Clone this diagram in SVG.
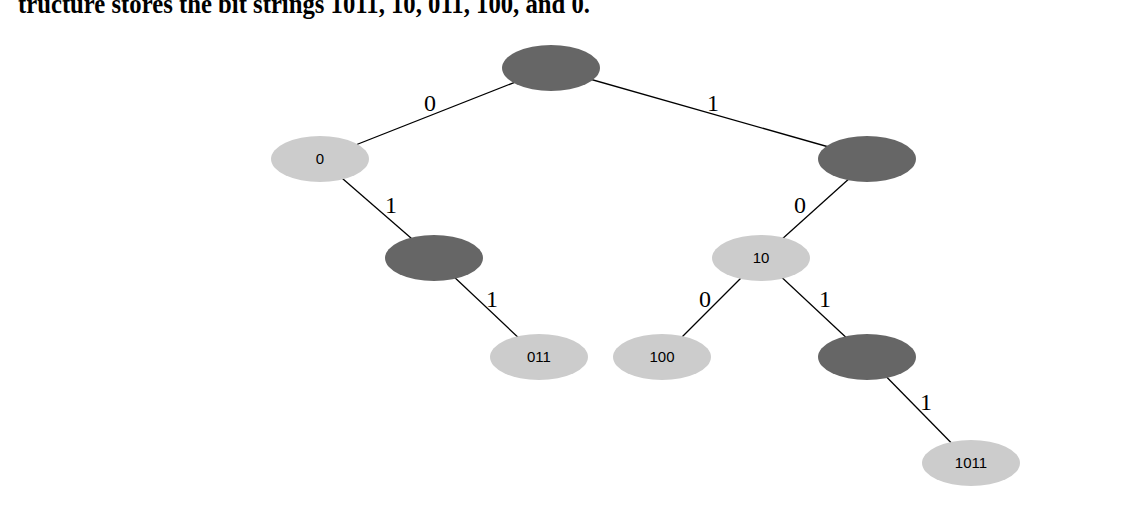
<svg xmlns="http://www.w3.org/2000/svg" width="1128" height="532" viewBox="0 0 1128 532">
<style>
.d{fill:#666}.l{fill:#ccc}
.t{font-family:"Liberation Sans",Arial,sans-serif;font-size:15px;text-anchor:middle;fill:#000}
.e{font-family:"Liberation Serif","Times New Roman",serif;font-size:24px;fill:#000;text-anchor:middle}
.h{font-family:"Liberation Serif","Times New Roman",serif;font-size:28px;font-weight:bold;fill:#000}
line{stroke:#000;stroke-width:1.3}
</style>
<rect width="1128" height="532" fill="#fff"/>
<text class="h" x="18" y="13" textLength="572" lengthAdjust="spacingAndGlyphs">tructure stores the bit strings 1011, 10, 011, 100, and 0.</text>
<g id="connectors">
<line x1="551" y1="68" x2="320" y2="159"/>
<line x1="551" y1="68" x2="871" y2="159"/>
<line x1="320" y1="159" x2="434" y2="258"/>
<line x1="434" y1="258" x2="539" y2="357"/>
<line x1="871" y1="159" x2="761" y2="258"/>
<line x1="761" y1="258" x2="662" y2="357"/>
<line x1="761" y1="258" x2="867" y2="357"/>
<line x1="867" y1="357" x2="971" y2="463"/>
<text class="e" x="430" y="111">0</text>
<text class="e" x="713" y="111">1</text>
<text class="e" x="391" y="213">1</text>
<text class="e" x="800" y="213">0</text>
<text class="e" x="492" y="307">1</text>
<text class="e" x="705" y="307">0</text>
<text class="e" x="825" y="307">1</text>
<text class="e" x="926" y="410">1</text>
</g>
<g id="root"><ellipse class="d" cx="551" cy="68" rx="49" ry="23"/></g>
<g id="n0"><ellipse class="l" cx="320" cy="159" rx="49" ry="23"/><text class="t" x="320" y="164">0</text></g>
<g id="n1"><ellipse class="d" cx="867" cy="159" rx="49" ry="23"/></g>
<g id="n01"><ellipse class="d" cx="434" cy="258" rx="49" ry="23"/></g>
<g id="n10"><ellipse class="l" cx="761" cy="258" rx="49" ry="23"/><text class="t" x="761" y="263">10</text></g>
<g id="n011"><ellipse class="l" cx="539" cy="357" rx="49" ry="23"/><text class="t" x="539" y="362">011</text></g>
<g id="n100"><ellipse class="l" cx="662" cy="357" rx="49" ry="23"/><text class="t" x="662" y="362">100</text></g>
<g id="n101"><ellipse class="d" cx="867" cy="357" rx="49" ry="23"/></g>
<g id="n1011"><ellipse class="l" cx="971" cy="463" rx="49" ry="23"/><text class="t" x="971" y="468">1011</text></g>
</svg>
